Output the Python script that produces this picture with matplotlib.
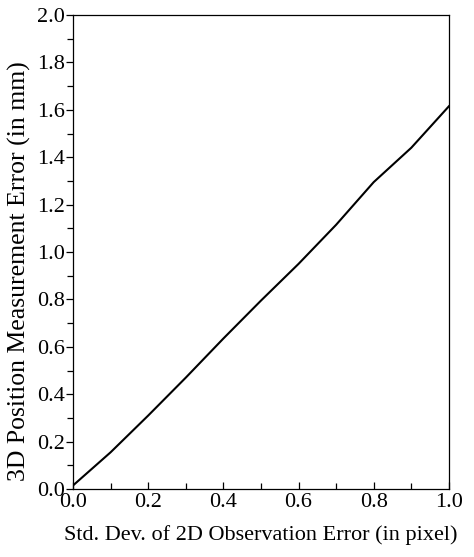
import numpy as np
import matplotlib
matplotlib.use("Agg")
import matplotlib.pyplot as plt
from matplotlib.ticker import MultipleLocator
import matplotlib.transforms as mtransforms

# values
std_dev = [0.0, 0.1, 0.2, 0.3, 0.4, 0.5, 0.6, 0.7, 0.8, 0.9, 1.0]
pos_err = [0.015, 0.155, 0.31, 0.47, 0.635, 0.795, 0.95, 1.115, 1.295, 1.44, 1.615]

plt.rcParams['font.family'] = ['Liberation Serif', 'DejaVu Serif']

fig = plt.figure(figsize=(4.74, 5.57), dpi=100)
ax = fig.add_axes([0.154, 0.122, 0.793, 0.851])

ax.plot(std_dev, pos_err, color='black', linewidth=1.5)

ax.set_xlim(0, 1.0)
ax.set_ylim(0, 2.0)
ax.xaxis.set_major_locator(MultipleLocator(0.2))
ax.xaxis.set_minor_locator(MultipleLocator(0.1))
ax.yaxis.set_major_locator(MultipleLocator(0.2))
ax.yaxis.set_minor_locator(MultipleLocator(0.1))
ax.xaxis.set_major_formatter(plt.FormatStrFormatter('%.1f'))
ax.yaxis.set_major_formatter(plt.FormatStrFormatter('%.1f'))

ax.tick_params(axis='x', which='both', direction='in', top=False, labelsize=16, pad=3)
ax.tick_params(axis='y', which='both', direction='out', right=False, labelsize=16, pad=0.5)
ax.tick_params(which='major', length=5, width=0.9)
ax.tick_params(which='minor', length=4, width=0.9)

# the bottom y label sits a little higher in the original, clear of the x label
fig.canvas.draw()
lab0 = ax.get_yticklabels()[0]
lab0.set_transform(lab0.get_transform() + mtransforms.ScaledTranslation(0, 5 / 100, fig.dpi_scale_trans))

for s in ax.spines.values():
    s.set_linewidth(0.9)

ax.set_xlabel('Std. Dev. of 2D Observation Error (in pixel)', fontsize=16, labelpad=9)
ax.set_ylabel('3D Position Measurement Error (in mm)', fontsize=18.5, labelpad=4)
ax.yaxis.set_label_coords(-0.113, 0.46)

fig.savefig('out.png', dpi=100)
